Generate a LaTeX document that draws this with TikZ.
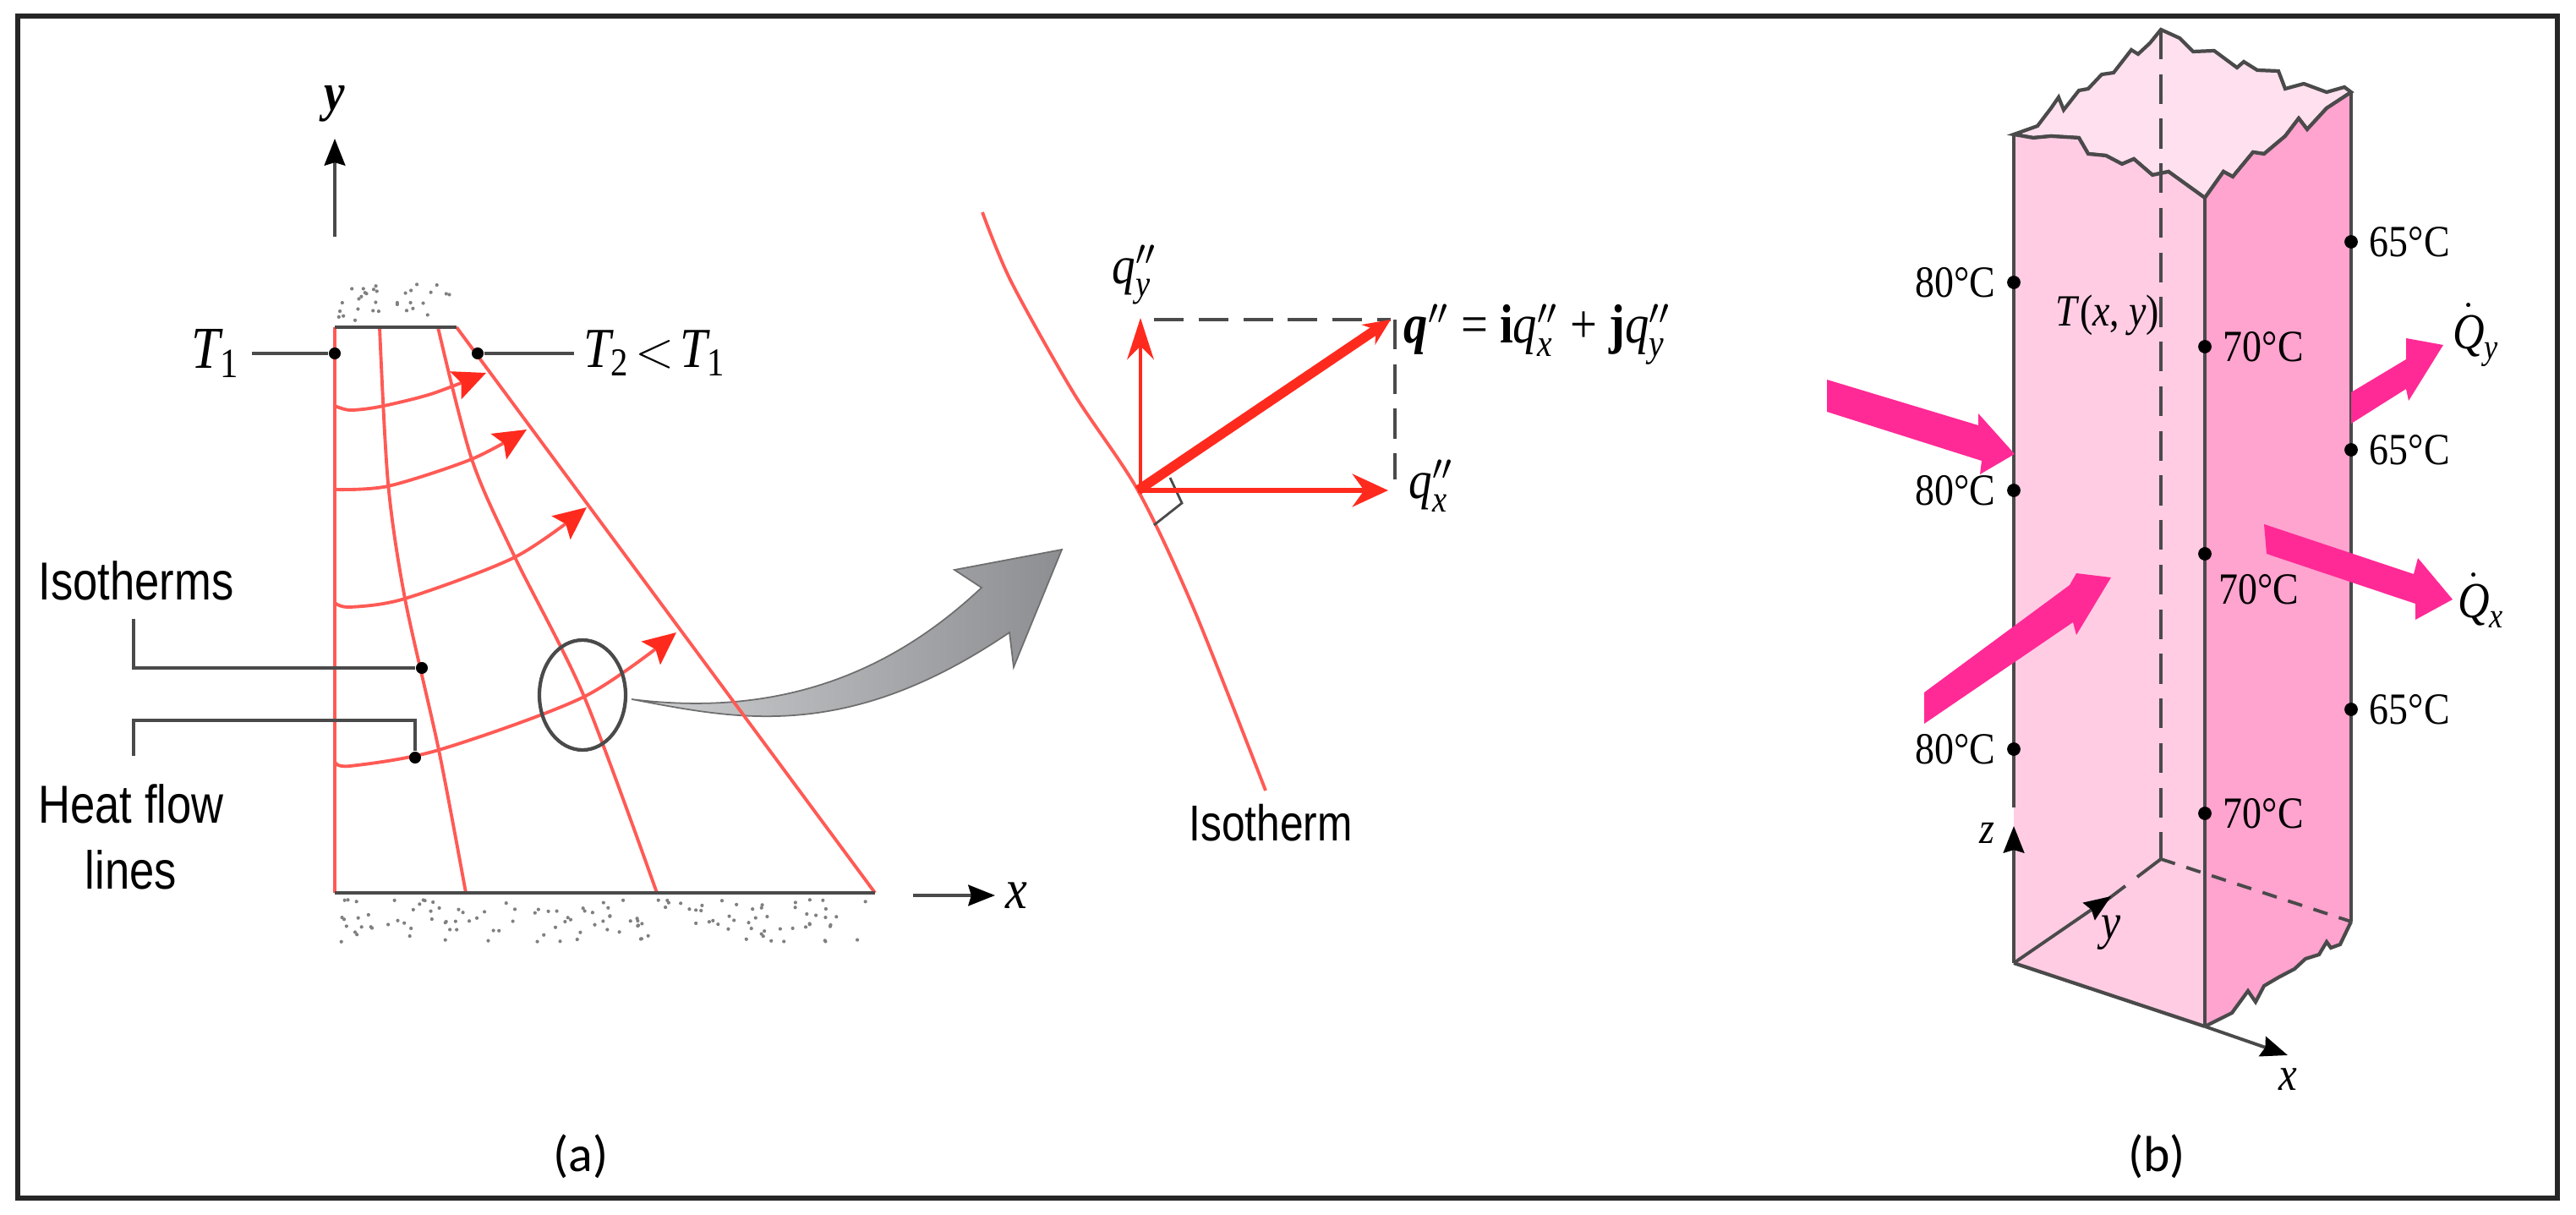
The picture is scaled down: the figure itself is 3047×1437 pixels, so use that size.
\documentclass[tikz,border=0pt]{standalone}
\usepackage{amsmath}
\usepackage{fontspec}
\setmainfont{Liberation Serif}[FakeStretch=0.87]
\newfontfamily\condsans{Liberation Sans}[FakeStretch=0.83]
\newfontfamily\capfont{Carlito}
\usetikzlibrary{arrows.meta}

\definecolor{edgegray}{HTML}{4A4A4A}
\definecolor{heatred}{HTML}{FF5A55}
\definecolor{fluxred}{HTML}{FF2A1E}
\definecolor{facetop}{HTML}{FFE0EE}
\definecolor{faceleft}{HTML}{FFCCE4}
\definecolor{faceright}{HTML}{FFA3CF}
\definecolor{flowpink}{HTML}{FF2A96}
\definecolor{bendlight}{HTML}{CDCFD1}
\definecolor{benddark}{HTML}{8C8E91}

\tikzset{
  wall/.style={draw=edgegray, line width=1.2pt},
  leader/.style={draw=edgegray, line width=1.1pt},
  dashline/.style={draw=edgegray, line width=1.1pt, dash pattern=on 10pt off 5pt},
  isoline/.style={draw=heatred, line width=1.1pt},
  heatline/.style={draw=heatred, line width=1.1pt, -{Stealth[length=11pt, width=10pt, inset=2pt, color=fluxred]}},
  axisline/.style={draw=edgegray, line width=1.1pt, -{Stealth[length=9pt, width=7pt, inset=1pt, color=black]}},
  flowarrow/.style={fill=flowpink, draw=none},
  tdot/.style={circle, fill=black, inner sep=0pt, minimum size=4.5pt},
  sdot/.style={circle, fill=black, inner sep=0pt, minimum size=4pt},
  temp/.style={font=\fontsize{15}{17}\selectfont, inner sep=0pt},
  sym/.style={font=\fontsize{20}{24}\selectfont, inner sep=0pt},
  vec/.style={font=\fontsize{18.5}{22}\selectfont, inner sep=0pt},
  word/.style={font=\fontsize{18}{21}\condsans, inner sep=0pt},
  capt/.style={font=\fontsize{17}{20}\capfont, inner sep=0pt},
}

\begin{document}
\begin{tikzpicture}[x=0.01cm, y=-0.01cm]
    \useasboundingbox (0, 0) rectangle (3047, 1437);
    \draw [line width=1.7pt, draw=black!85] (21, 19) rectangle (3025, 1417);

    % stipple
    \pgfmathsetseed{11}
    \foreach \i in {1,...,32}
      \fill [black!50] (400+136*rnd, 335+48*rnd) circle (0.6pt);
    \foreach \i in {1,...,130}
      \fill [black!50] (400+630*rnd, 1064+50*rnd) circle (0.6pt);

    % bend arrow
    \path [left color=bendlight, right color=benddark, draw=edgegray!80, line width=0.5pt]
        (747, 827) .. controls (870, 850) and (1000, 880) .. (1194, 748)
        -- (1199, 789) -- (1256, 650) -- (1129, 674) -- (1161, 695)
        .. controls (1060, 790) and (930, 850) .. (747, 827) -- cycle;

    % wedge
    \draw [isoline]  (396, 387) -- (396, 1056);
    \draw [isoline]  (540, 387) -- (1035, 1056);
    \draw [isoline]  plot [smooth] coordinates {(449, 387) (459, 571) (479, 708) (519, 887) (551, 1056)};
    \draw [isoline]  plot [smooth] coordinates {(518, 387) (558, 543) (609, 659) (691, 824) (777, 1056)};
    \draw [heatline] plot [smooth] coordinates {(396, 480) (414, 485) (449, 481) (510, 466) (575, 441)};
    \draw [heatline] plot [smooth] coordinates {(396, 579) (459, 575) (558, 543) (623, 508)};
    \draw [heatline] plot [smooth] coordinates {(396, 713) (414, 718) (479, 708) (609, 659) (694, 600)};
    \draw [heatline] plot [smooth] coordinates {(396, 901) (414, 906) (519, 887) (691, 824) (800, 748)};
    \draw [wall]     (396, 387) -- (540, 387);
    \draw [wall]     (396, 1056) -- (1035, 1056);
    \draw [edgegray, line width=1.2pt] (689, 822) ellipse (51 and 65);

    % axes of the wedge
    \coordinate (ya) at (396, 280);
    \coordinate (xa) at (1080, 1059);
    \draw [axisline] (ya) -- (396, 164) node [above=5pt, sym, font=\fontsize{18}{20}\selectfont\bfseries\itshape] (ylab) {y};
    \draw [axisline] (xa) -- (1177, 1059) node [right=3pt, sym, font=\fontsize{19}{20}\selectfont] (xlab) {\textit{x}};

    % T1, T2
    \path (396, 418) node [sdot] (tone) {};
    \path (565, 418) node [sdot] (ttwo) {};
    \path (298, 418) node [left=4pt, sym] (tonelab) {$\textit{T}_{\text{1}}$};
    \path (679, 418) node [right=3pt, sym, font=\fontsize{19}{22}\selectfont] (ttwolab) {$\textit{T}_{\text{2}}\!<\!\textit{T}_{\text{1}}$};
    \coordinate (toneend) at (298, 418);
    \coordinate (ttwoend) at (679, 418);
    \draw [leader] (toneend) -- (tone);
    \draw [leader] (ttwo) -- (ttwoend);

    % isotherm and heat flow labels
    \node [word] (isolab) at (161, 687) {Isotherms};
    \node [word, align=center] (flowlab) at (155, 990) {Heat flow\\[1pt]lines};
    \path (499, 790) node [sdot] (isodot) {};
    \path (491, 896) node [sdot] (flowdot) {};
    \coordinate (isoend) at (158, 732);
    \coordinate (flowend) at (158, 894);
    \draw [leader] (isoend) |- (isodot);
    \draw [leader] (flowend) -- (158, 852) -| (flowdot);

    % flux vector
    \coordinate (org) at (1346, 580);
    \coordinate (qtip) at (1645, 378);
    \draw [dashline] (1365, 378) -- (qtip);
    \draw [dashline] (1650, 378) -- (1650, 567);
    \draw [isoline] plot [smooth] coordinates {(1162, 251) (1196, 333) (1270, 465) (1346, 580) (1412, 720) (1497, 935)};
    \draw [line width=0.8pt, draw=edgegray] (1384, 565) -- (1398, 595) -- (1365, 621);
    \draw [fluxred, line width=1.2pt, -{Stealth[length=14pt, width=9pt]}] (1349, 580) -- (1349, 376);
    \draw [fluxred, line width=1.9pt, -{Stealth[length=12pt, width=11pt]}] (org) -- (1642, 580);
    \draw [fluxred, line width=3.3pt, -{Stealth[length=9pt, width=8pt]}] (org) -- (qtip);
    \node [sym, font=\fontsize{18}{22}\selectfont] (qylab) at (1342, 325) {$\textit{q}''_{\textit{y}}$};
    \node [sym, font=\fontsize{18}{22}\selectfont] (qxlab) at (1693, 575) {$\textit{q}''_{\textit{x}}$};
    \node [vec, anchor=west] (qlab) at (1660, 396) {$\textbf{\textit{q}}''$ = \textbf{i}$\textit{q}''_{\textit{x}}$ + \textbf{j}$\textit{q}''_{\textit{y}}$};
    \node [word, font=\fontsize{17}{21}\condsans] (isotwolab) at (1503, 973) {Isotherm};

    % faces of the column
    \coordinate (ca) at (2382, 159);
    \coordinate (cb) at (2556, 35);
    \coordinate (cc) at (2781, 109);
    \coordinate (cd) at (2608, 234);
    \coordinate (ce) at (2382, 1139);
    \coordinate (cf) at (2608, 1214);
    \coordinate (cg) at (2781, 1090);
    \coordinate (ch) at (2556, 1016);
    \filldraw [fill=facetop, wall]
        (ca) -- (2410, 149) -- (2426, 128) -- (2435, 115) -- (2441, 130) -- (2459, 107) -- (2470, 105)
        -- (2486, 88) -- (2500, 86) -- (2521, 59) -- (2529, 64) -- (2543, 51) -- (cb)
        -- (2578, 45) -- (2594, 61) -- (2619, 60) -- (2646, 80) -- (2654, 73) -- (2670, 83) -- (2695, 84)
        -- (2703, 105) -- (2725, 99) -- (2752, 109) -- (2773, 103) -- (cc)
        -- (2752, 128) -- (2729, 153) -- (2719, 140) -- (2703, 161) -- (2678, 182) -- (2665, 180)
        -- (2641, 209) -- (2630, 203) -- (cd)
        -- (2565, 203) -- (2546, 207) -- (2524, 188) -- (2510, 194) -- (2491, 184) -- (2470, 182)
        -- (2459, 163) -- (2426, 161) -- (2405, 163) -- cycle;
    \fill [faceleft]
        (ca) -- (2405, 163) -- (2426, 161) -- (2459, 163) -- (2470, 182) -- (2491, 184) -- (2510, 194)
        -- (2524, 188) -- (2546, 207) -- (2565, 203) -- (cd) -- (cf) -- (ce) -- cycle;
    \fill [faceright]
        (cd) -- (2630, 203) -- (2641, 209) -- (2665, 180) -- (2678, 182) -- (2703, 161) -- (2719, 140)
        -- (2729, 153) -- (2752, 128) -- (cc) -- (cg) -- (2768, 1117) -- (2757, 1121) -- (2752, 1114)
        -- (2743, 1129) -- (2727, 1134) -- (2714, 1146) -- (2695, 1156) -- (2678, 1166) -- (2668, 1185)
        -- (2659, 1172) -- (2640, 1198) -- (cf) -- cycle;
    \draw [wall] (cd) -- (2565, 203) -- (2546, 207) -- (2524, 188) -- (2510, 194) -- (2491, 184) -- (2470, 182)
        -- (2459, 163) -- (2426, 161) -- (2405, 163) -- (ca);
    \draw [wall] (cd) -- (2630, 203) -- (2641, 209) -- (2665, 180) -- (2678, 182) -- (2703, 161) -- (2719, 140)
        -- (2729, 153) -- (2752, 128) -- (cc);
    \draw [wall] (cg) -- (2768, 1117) -- (2757, 1121) -- (2752, 1114) -- (2743, 1129) -- (2727, 1134) -- (2714, 1146)
        -- (2695, 1156) -- (2678, 1166) -- (2668, 1185) -- (2659, 1172) -- (2640, 1198) -- (cf);
    \draw [dashline] (cb) -- (ch);
    \draw [dashline] (ch) -- (2490, 1066);
    \draw [dashline, dash pattern=on 5pt off 4pt] (ch) -- (cg);
    \draw [wall] (ca) -- (2382, 955);
    \draw [wall] (cd) -- (cf);
    \draw [wall] (cc) -- (cg);
    \draw [wall] (ce) -- (cf);

    % axes of the column
    \draw [axisline] (ce) -- (2382, 977) node [left=6pt, pos=0.95, sym, font=\fontsize{15}{18}\selectfont] (zlab) {\textit{z}};
    \draw [axisline] (ce) -- (2497, 1060) node [below=6pt, sym, font=\fontsize{17}{18}\selectfont] (ycol) {\textit{y}};
    \draw [axisline] (cf) -- (2706, 1248) node [below=4pt, sym, font=\fontsize{16}{18}\selectfont] (xcol) {\textit{x}};

    % flow arrows
    \fill [flowarrow] (2161, 449) -- (2340, 503) -- (2340, 489) -- (2383, 537) -- (2342, 561) -- (2344, 545) -- (2161, 487) -- cycle;
    \fill [flowarrow] (2276, 819) -- (2448, 692) -- (2456, 678) -- (2497, 683) -- (2456, 751) -- (2452, 736) -- (2276, 856) -- cycle;
    \fill [flowarrow] (2781, 464) -- (2846, 425) -- (2846, 400) -- (2890, 408) -- (2849, 474) -- (2846, 460) -- (2781, 501) -- cycle;
    \fill [flowarrow] (2678, 620) -- (2855, 679) -- (2860, 660) -- (2901, 709) -- (2857, 733) -- (2857, 714) -- (2681, 655) -- cycle;

    % temperatures
    \path (2382, 334) node [tdot] (la) {} node [left=6pt, temp] (lla) {80°C};
    \path (2382, 580) node [tdot] (lb) {} node [left=6pt, temp] (llb) {80°C};
    \path (2382, 886) node [tdot] (lc) {} node [left=6pt, temp] (llc) {80°C};
    \path (2608, 410) node [tdot] (ma) {} node [right=6pt, temp] (lma) {70°C};
    \path (2608, 655) node [tdot] (mb) {};
    \path (2624, 697) node [temp, anchor=west] (lmb) {70°C};
    \path (2608, 962) node [tdot] (mc) {} node [right=6pt, temp] (lmc) {70°C};
    \path (2781, 286) node [tdot] (ra) {} node [right=6pt, temp] (lra) {65°C};
    \path (2781, 532) node [tdot] (rb) {} node [right=6pt, temp] (lrb) {65°C};
    \path (2781, 839) node [tdot] (rc) {} node [right=6pt, temp] (lrc) {65°C};
    \node [temp] (tlab) at (2493, 373) {\textit{T}(\textit{x}, \textit{y})};
    \node [temp, font=\fontsize{17}{18}\selectfont] (qcy) at (2929, 396) {$\dot{\textit{Q}}_{\textit{y}}$};
    \node [temp, font=\fontsize{17}{18}\selectfont] (qcx) at (2935, 710) {$\dot{\textit{Q}}_{\textit{x}}$};

    % captions
    \node [capt] (capa) at (687, 1368) {(a)};
    \node [capt] (capb) at (2551, 1368) {(b)};
\end{tikzpicture}
\end{document}
